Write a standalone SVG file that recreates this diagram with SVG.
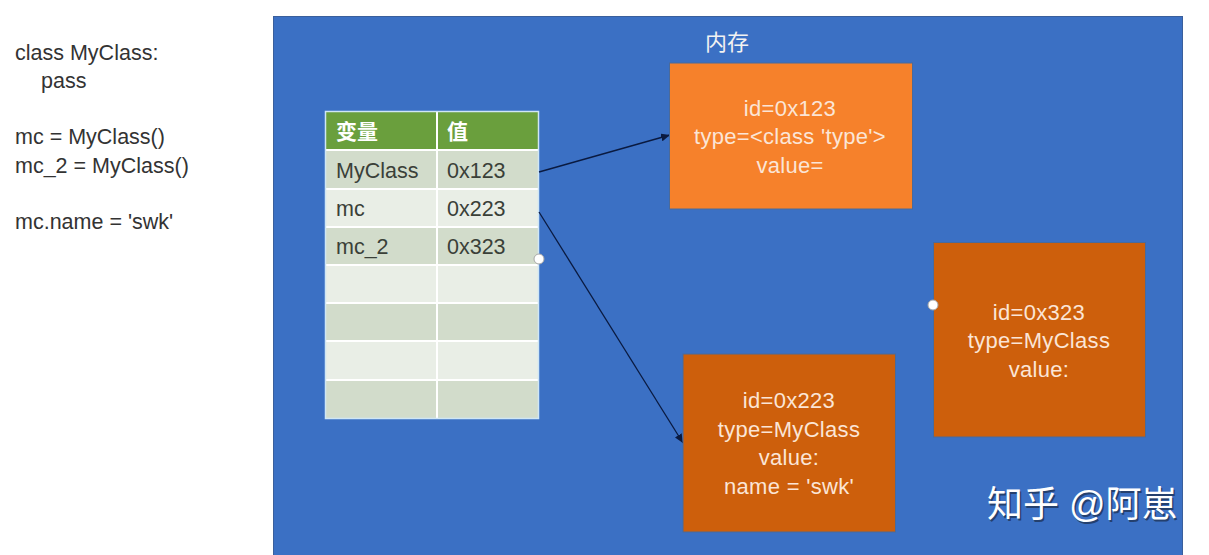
<svg xmlns="http://www.w3.org/2000/svg" width="1209" height="555" viewBox="0 0 1209 555">
<style>
text{font-family:"Liberation Sans","Noto Sans CJK SC",sans-serif}
.code{font-size:21.5px;fill:#333}
.box{stroke:#4a6a9a;stroke-width:1}
.lbl{font-size:22px;fill:#fbe5d6;text-anchor:middle;letter-spacing:.3px}
.cell{font-size:21.5px;fill:#3a4038}
.hd{font-size:21px;fill:#fff;font-weight:bold}
.a{stroke:#0a1a40;stroke-width:1.3;fill:none;marker-end:url(#arr)}
.h{fill:#fff;stroke:#a8a8a8;stroke-width:1}
.g{stroke:#fff;stroke-width:2;fill:none}
</style>
<defs><marker id="arr" markerUnits="userSpaceOnUse" markerWidth="10" markerHeight="8" refX="9" refY="4" orient="auto"><path d="M0 0L9 4L0 8z" fill="#0a1a40"/></marker></defs>
<rect width="1209" height="555" fill="#fff"/>
<rect id="memory" x="273.500" y="16.500" width="909" height="560" fill="#3b70c4" stroke="#3a5f9c"/>
<g id="code">
<text class="code" x="15" y="60">class MyClass:</text>
<text class="code" x="41" y="88">pass</text>
<text class="code" x="15" y="144">mc = MyClass()</text>
<text class="code" x="15" y="173">mc_2 = MyClass()</text>
<text class="code" x="15" y="229">mc.name = 'swk'</text>
</g>
<text id="memory-title" x="705" y="50" font-size="22" fill="#f2f2f2">内存</text>
<g id="table">
<rect x="326" y="112" width="212" height="38" fill="#6a9f3d"/>
<rect x="326" y="150" width="212" height="39" fill="#d2dccb"/>
<rect x="326" y="189" width="212" height="38" fill="#e9eee6"/>
<rect x="326" y="227" width="212" height="38" fill="#d2dccb"/>
<rect x="326" y="265" width="212" height="38" fill="#e9eee6"/>
<rect x="326" y="303" width="212" height="38" fill="#d2dccb"/>
<rect x="326" y="341" width="212" height="39" fill="#e9eee6"/>
<rect x="326" y="380" width="212" height="38" fill="#d2dccb"/>
<path class="g" d="M326 150H538M326 189H538M326 227H538M326 265H538M326 303H538M326 341H538M326 380H538M437 112V418"/>
<rect x="325.500" y="111.500" width="213" height="307" fill="none" stroke="#cfe6f5" stroke-width="1.500"/>
<text class="hd" x="336" y="139">变量</text><text class="hd" x="447" y="139">值</text>
<text class="cell" x="336" y="178">MyClass</text><text class="cell" x="447" y="178">0x123</text>
<text class="cell" x="336" y="216">mc</text><text class="cell" x="447" y="216">0x223</text>
<text class="cell" x="336" y="254">mc_2</text><text class="cell" x="447" y="254">0x323</text>
<circle class="h" cx="539" cy="259" r="5"/>
</g>
<g id="connectors">
<path class="a" d="M539 172L670 135"/>
<path class="a" d="M539 212L683 443"/>
</g>
<g id="node-0x123">
<rect class="box" x="669.500" y="63" width="243" height="146" fill="#f6812b"/>
<text class="lbl" x="790" y="116">id=0x123</text>
<text class="lbl" x="790" y="144">type=&lt;class 'type'&gt;</text>
<text class="lbl" x="790" y="173">value=</text>
</g>
<g id="node-0x223">
<rect class="box" x="683" y="354" width="212.500" height="178" fill="#cd5f0c"/>
<text class="lbl" x="789" y="408">id=0x223</text>
<text class="lbl" x="789" y="437">type=MyClass</text>
<text class="lbl" x="789" y="465">value:</text>
<text class="lbl" x="789" y="494">name = 'swk'</text>
</g>
<g id="node-0x323">
<rect class="box" x="933.500" y="242.500" width="212" height="194.500" fill="#cd5f0c"/>
<text class="lbl" x="1039" y="320">id=0x323</text>
<text class="lbl" x="1039" y="348">type=MyClass</text>
<text class="lbl" x="1039" y="377">value:</text>
<circle cx="933" cy="305" r="5" fill="#fff" stroke="#a8a8a8"/>
</g>
<g id="watermark" font-size="36" fill="#fff">
<text x="987" y="517" fill="#24406e" transform="translate(1.500 1.500)">知乎 @阿崽</text>
<text x="987" y="517">知乎 @阿崽</text>
</g>
</svg>
